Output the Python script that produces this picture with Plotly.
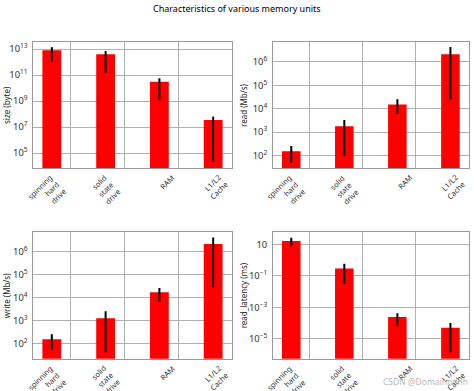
import plotly.graph_objects as go

names = ["spinning<br>hard<br>drive", "solid<br>state<br>drive", "RAM", "L1/L2<br>Cache"]
bar_pos = [0, 1, 2, 3]
tick_pos = [0.35, 1.35, 2.35, 3.35]

size_val = [8e12, 4e12, 3e10, 3.5e7]
size_lo = [1e12, 1.4e11, 1.2e9, 2.1e4]
size_hi = [1.4e13, 7e12, 5.6e10, 6.3e7]

read_val = [150, 1750, 15000, 2.1e6]
read_lo = [48, 95, 5900, 25000]
read_hi = [250, 3300, 25000, 4.3e6]

write_val = [160, 1300, 17000, 2.1e6]
write_lo = [55, 44, 6500, 28000]
write_hi = [260, 2600, 26000, 4e6]

lat_val = [16, 0.29, 2.4e-4, 5e-5]
lat_lo = [7.5, 0.03, 6.6e-5, 1.4e-6]
lat_hi = [26, 0.57, 4.2e-4, 1e-4]

panels = [
    ("size (byte)", size_val, size_lo, size_hi, [3.85, 13.54], 2, 1),
    ("read (Mb/s)", read_val, read_lo, read_hi, [1.46, 6.85], 1, 0),
    ("write (Mb/s)", write_val, write_lo, write_hi, [1.36, 6.84], 1, 0),
    ("read_latency (ms)", lat_val, lat_lo, lat_hi, [-6.27, 1.78], 2, 1),
]

W, H = 474, 391
xdoms = [[33/W, 232/W], [272.7/W, 469/W]]
ydoms = [[1-168/H, 1-42/H], [1-358.7/H, 1-232/H]]
ytitle_x = [6/W, 243/W]

FONT = "Noto Sans"
fig = go.Figure()
annotations = []
layout = dict(
    width=W, height=H,
    margin=dict(l=0, r=0, t=0, b=0),
    paper_bgcolor="white", plot_bgcolor="white",
    showlegend=False,
    font=dict(family=FONT, color="#262626"),
)
for i, (label, val, lo, hi, rng, dt, t0) in enumerate(panels):
    row, col = divmod(i, 2)
    ax = "" if i == 0 else str(i + 1)
    plus = [h - v for h, v in zip(hi, val)]
    minus = [v - l for v, l in zip(val, lo)]
    fig.add_trace(go.Bar(
        x=bar_pos, y=val, width=0.35,
        marker=dict(color="red", line=dict(width=0)),
        error_y=dict(type="data", symmetric=False, array=plus, arrayminus=minus,
                     color="black", thickness=2, width=0),
        xaxis="x" + ax, yaxis="y" + ax, hoverinfo="skip",
    ))
    layout["xaxis" + ax] = dict(
        domain=xdoms[col], anchor="y" + ax, range=[-0.35, 3.35],
        tickmode="array", tickvals=tick_pos, showticklabels=False,
        showgrid=True, gridcolor="#b0b0b0", gridwidth=1,
        showline=True, linecolor="#999999", mirror=True, ticks="", zeroline=False,
    )
    layout["yaxis" + ax] = dict(
        domain=ydoms[row], anchor="x" + ax, type="log", range=rng,
        dtick=dt, tick0=t0, exponentformat="power",
        tickfont=dict(size=7.5, family=FONT, color="#333333"),
        showgrid=True, gridcolor="#b0b0b0", gridwidth=1,
        showline=True, linecolor="#999999", mirror=True, ticks="", ticklabelstandoff=3,
    )
    for tp, nm in zip(tick_pos, names):
        annotations.append(dict(
            text=nm, x=tp, y=ydoms[row][0], xref="x" + ax, yref="paper",
            textangle=-45, xanchor="right", yanchor="top", align="right",
            showarrow=False, yshift=-2, xshift=1,
            font=dict(size=7.5, family=FONT, color="#333333"),
        ))
    annotations.append(dict(
        text=label, x=ytitle_x[col], y=sum(ydoms[row]) / 2, xref="paper", yref="paper",
        textangle=-90, xanchor="center", yanchor="middle", showarrow=False,
        font=dict(size=8, family=FONT, color="#262626"),
    ))

annotations += [
    dict(text="Characteristics of various memory units", x=0.5, y=1 - 8/H,
         xref="paper", yref="paper", showarrow=False,
         font=dict(size=9, color="black", family=FONT),
         xanchor="center", yanchor="middle"),
    dict(text="CSDN @Domainnnnh", x=470/W, y=1 - 381/H, xref="paper", yref="paper",
         showarrow=False, font=dict(size=8.5, color="#b8b8b8", family=FONT),
         xanchor="right", yanchor="middle"),
]
layout["annotations"] = annotations
fig.update_layout(**layout)
fig.write_html("out.html", config={"displayModeBar": False},
               post_script="document.body.style.margin='0';")
